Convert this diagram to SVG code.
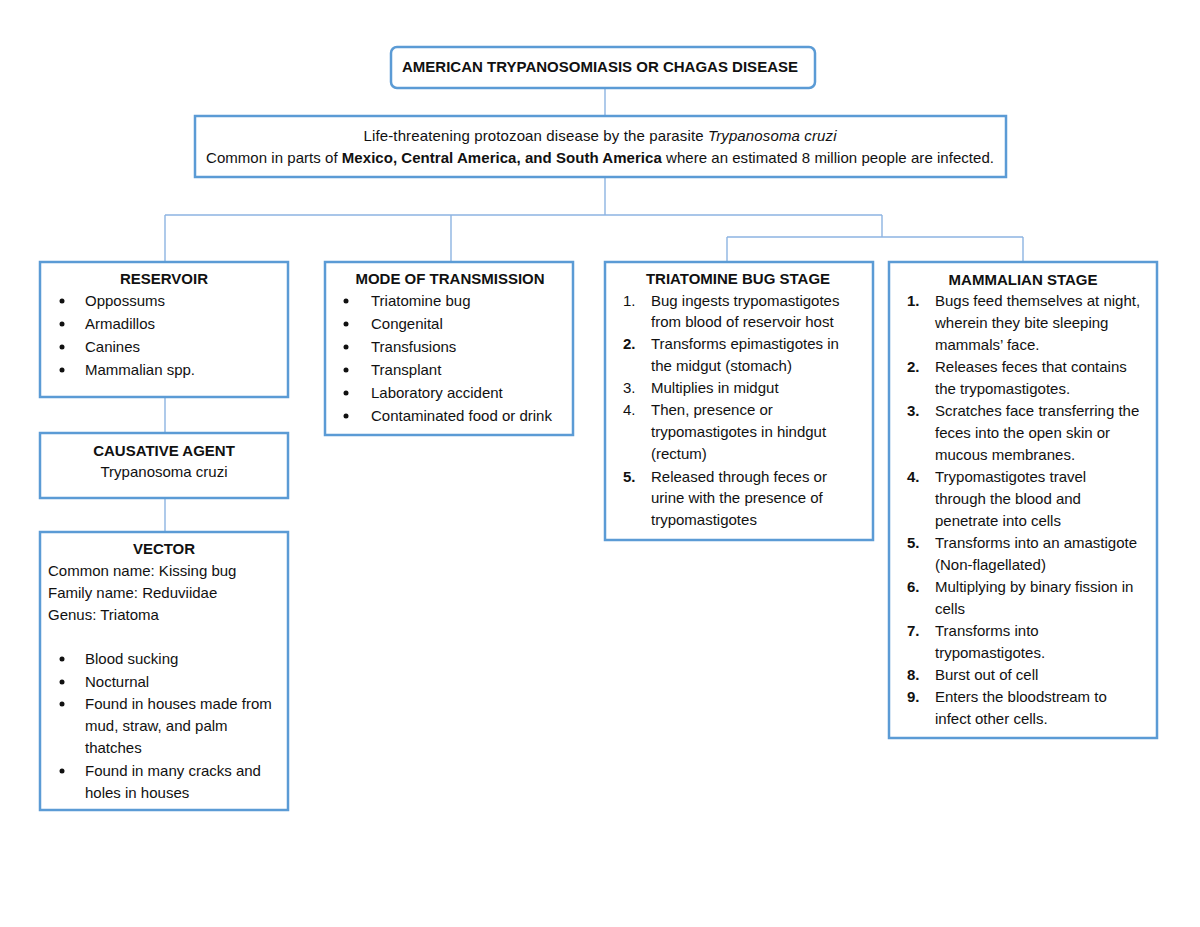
<svg xmlns="http://www.w3.org/2000/svg" width="1200" height="927" viewBox="0 0 1200 927">
<style>
text{font-family:"Liberation Sans",Arial,sans-serif;font-size:15px;fill:#111}
.b{font-weight:bold}
.c{text-anchor:middle}
.box{fill:#fff;stroke:#5b9bd5;stroke-width:2.5}
.con{stroke:#8db4e2;stroke-width:1.4;fill:none}
.dot{fill:#111}
</style>
<rect width="1200" height="927" fill="#fff"/>
<g id="connectors">
<path class="con" d="M605 88V116M605 177V215M165 215H882M165 215V262M451 215V262M882 215V237M727 237H1023M727 237V262M1023 237V262M165 397V433M165 498V532"/>
</g>
<g id="title">
<rect class="box" x="391" y="47" width="424" height="41" rx="6"/>
<text class="b c" x="600" y="72" font-size="14" textLength="396">AMERICAN TRYPANOSOMIASIS OR CHAGAS DISEASE</text>
</g>
<g id="overview">
<rect class="box" x="195" y="116" width="811" height="61"/>
<text class="c" x="600" y="141" textLength="473">Life-threatening protozoan disease by the parasite <tspan font-style="italic">Trypanosoma cruzi</tspan></text>
<text class="c" x="600" y="163" font-size="14" textLength="788">Common in parts of <tspan class="b">Mexico, Central America, and South America</tspan> where an estimated 8 million people are infected.</text>
</g>
<g id="reservoir">
<rect class="box" x="40" y="262" width="248" height="135"/>
<text class="b c" x="164" y="284">RESERVOIR</text>
<circle class="dot" cx="62" cy="301" r="2.5"/><text x="85" y="306">Oppossums</text>
<circle class="dot" cx="62" cy="324" r="2.5"/><text x="85" y="329">Armadillos</text>
<circle class="dot" cx="62" cy="347" r="2.5"/><text x="85" y="352">Canines</text>
<circle class="dot" cx="62" cy="370" r="2.5"/><text x="85" y="375">Mammalian spp.</text>
</g>
<g id="causative">
<rect class="box" x="40" y="433" width="248" height="65"/>
<text class="b c" x="164" y="456">CAUSATIVE AGENT</text>
<text class="c" x="164" y="477">Trypanosoma cruzi</text>
</g>
<g id="vector">
<rect class="box" x="40" y="532" width="248" height="278"/>
<text class="b c" x="164" y="554">VECTOR</text>
<text x="48" y="576">Common name: Kissing bug</text>
<text x="48" y="598">Family name: Reduviidae</text>
<text x="48" y="620">Genus: Triatoma</text>
<circle class="dot" cx="62" cy="659" r="2.5"/><text x="85" y="664">Blood sucking</text>
<circle class="dot" cx="62" cy="682" r="2.5"/><text x="85" y="687">Nocturnal</text>
<circle class="dot" cx="62" cy="704" r="2.5"/><text x="85" y="709">Found in houses made from</text>
<text x="85" y="731">mud, straw, and palm</text>
<text x="85" y="753">thatches</text>
<circle class="dot" cx="62" cy="771" r="2.5"/><text x="85" y="776">Found in many cracks and</text>
<text x="85" y="798">holes in houses</text>
</g>
<g id="mode">
<rect class="box" x="325" y="262" width="248" height="173"/>
<text class="b c" x="450" y="284">MODE OF TRANSMISSION</text>
<circle class="dot" cx="346" cy="301" r="2.5"/><text x="371" y="306">Triatomine bug</text>
<circle class="dot" cx="346" cy="324" r="2.5"/><text x="371" y="329">Congenital</text>
<circle class="dot" cx="346" cy="347" r="2.5"/><text x="371" y="352">Transfusions</text>
<circle class="dot" cx="346" cy="370" r="2.5"/><text x="371" y="375">Transplant</text>
<circle class="dot" cx="346" cy="393" r="2.5"/><text x="371" y="398">Laboratory accident</text>
<circle class="dot" cx="346" cy="416" r="2.5"/><text x="371" y="421">Contaminated food or drink</text>
</g>
<g id="triatomine">
<rect class="box" x="605" y="262" width="268" height="278"/>
<text class="b c" x="738" y="284">TRIATOMINE BUG STAGE</text>
<text x="623" y="306">1.</text><text x="651" y="306">Bug ingests trypomastigotes</text>
<text x="651" y="327">from blood of reservoir host</text>
<text class="b" x="623" y="349">2.</text><text x="651" y="349">Transforms epimastigotes in</text>
<text x="651" y="371">the midgut (stomach)</text>
<text x="623" y="393">3.</text><text x="651" y="393">Multiplies in midgut</text>
<text x="623" y="415">4.</text><text x="651" y="415">Then, presence or</text>
<text x="651" y="437">trypomastigotes in hindgut</text>
<text x="651" y="459">(rectum)</text>
<text class="b" x="623" y="482">5.</text><text x="651" y="482">Released through feces or</text>
<text x="651" y="503">urine with the presence of</text>
<text x="651" y="525">trypomastigotes</text>
</g>
<g id="mammalian">
<rect class="box" x="889" y="262" width="268" height="476"/>
<text class="b c" x="1023" y="285">MAMMALIAN STAGE</text>
<text class="b" x="907" y="306">1.</text><text x="935" y="306">Bugs feed themselves at night,</text>
<text x="935" y="328">wherein they bite sleeping</text>
<text x="935" y="350">mammals’ face.</text>
<text class="b" x="907" y="372">2.</text><text x="935" y="372">Releases feces that contains</text>
<text x="935" y="394">the trypomastigotes.</text>
<text class="b" x="907" y="416">3.</text><text x="935" y="416">Scratches face transferring the</text>
<text x="935" y="438">feces into the open skin or</text>
<text x="935" y="460">mucous membranes.</text>
<text class="b" x="907" y="482">4.</text><text x="935" y="482">Trypomastigotes travel</text>
<text x="935" y="504">through the blood and</text>
<text x="935" y="526">penetrate into cells</text>
<text class="b" x="907" y="548">5.</text><text x="935" y="548">Transforms into an amastigote</text>
<text x="935" y="570">(Non-flagellated)</text>
<text class="b" x="907" y="592">6.</text><text x="935" y="592">Multiplying by binary fission in</text>
<text x="935" y="614">cells</text>
<text class="b" x="907" y="636">7.</text><text x="935" y="636">Transforms into</text>
<text x="935" y="658">trypomastigotes.</text>
<text class="b" x="907" y="680">8.</text><text x="935" y="680">Burst out of cell</text>
<text class="b" x="907" y="702">9.</text><text x="935" y="702">Enters the bloodstream to</text>
<text x="935" y="724">infect other cells.</text>
</g>
</svg>
